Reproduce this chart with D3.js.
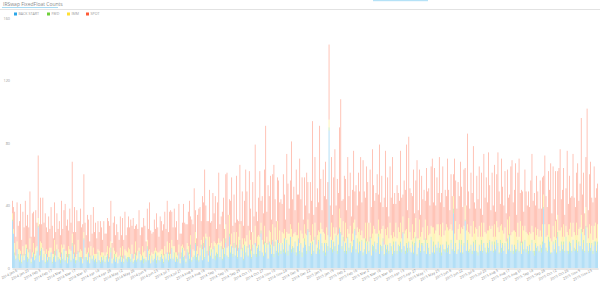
<!DOCTYPE html>
<html>
<head>
<meta charset="utf-8">
<script src="https://cdn.jsdelivr.net/npm/d3@7"></script>
<style>
	body { margin: 0; background: #fff; font-family: "Open Sans", "DejaVu Sans", sans-serif; }
</style>
</head>
<body>
<script>
"use strict";

// series names and colours
var seriesNames = ["BACK START", "FWD", "IMM", "SPOT"];
var seriesColors = ["#2aa6e8", "#6fcf3a", "#ffe033", "#ff5a36"];
var yTicks = [0, 40, 80, 120, 160];

// first trading day, one bar per weekday
var startDate = "2014-01-01";

// BACK START counts
var backStart = [
	30,22,8,5,12,6,4,9,3,7, 5,8,12,4,6,10,3,7,9,5, 6,10,26,4,8,12,5,7,3,9, 4,7,5,10,3,6,8,4,11,5,
	6,3,9,5,12,4,7,3,6,8, 4,14,6,9,3,5,10,4,7,6, 3,18,5,7,4,9,3,6,5,8, 4,6,3,8,5,3,7,4,6,3,
	5,8,4,6,10,3,5,7,4,6, 3,5,7,4,6,3,8,5,4,7, 6,4,9,3,5,8,4,6,10,4, 5,7,3,6,4,12,5,8,3,6,
	4,6,9,3,7,5,4,8,6,3, 7,5,10,4,8,6,12,5,7,4, 6,4,9,3,7,12,5,8,3,10, 8,5,12,4,7,6,15,5,9,4,
	7,12,5,14,6,18,9,4,11,7, 10,6,13,5,9,7,15,6,12,5, 12,7,16,8,6,20,9,14,7,13, 8,13,6,12,15,7,11,5,14,8,
	12,7,15,9,6,13,8,16,7,12, 14,8,22,10,7,15,9,13,6,16, 13,9,17,7,14,10,18,8,15,9, 15,10,19,9,16,8,14,20,10,13,
	10,16,8,14,18,9,15,7,13,17, 14,9,24,11,16,8,15,10,18,9, 11,17,9,22,14,10,16,8,15,11, 88,12,18,10,16,11,20,9,15,25,
	22,12,17,10,16,9,19,11,15,10, 12,18,24,10,16,9,15,11,17,8, 11,16,9,15,10,18,8,14,11,16, 10,15,20,9,14,11,17,8,15,10,
	14,9,16,11,8,15,10,17,9,14, 11,16,10,22,14,9,15,10,16,11, 10,15,9,14,17,8,13,16,10,15, 14,10,16,9,15,11,8,18,10,14,
	9,15,11,16,10,14,8,15,11,10, 15,10,14,9,16,11,35,10,14,9, 11,16,10,15,9,14,30,11,16,10, 10,14,9,16,11,15,10,8,14,11,
	15,10,16,11,9,14,10,17,11,15, 10,15,11,18,14,9,16,10,15,11, 14,9,16,11,20,10,15,9,14,10, 11,16,10,14,9,15,11,17,10,14,
	9,14,11,16,10,8,15,11,14,10, 14,10,15,38,16,11,10,18,14,9, 10,15,11,16,9,20,14,10,15,11, 15,10,17,11,9,16,14,10,18,11,
	11,16,10,15,14,22,11,16,10,25, 14,10,16,11,15,9,14,17,10,15
];

// FWD counts
var fwd = [
	1,0,2,1,0,3,1,0,1,2, 0,1,1,3,0,2,1,0,1,0, 2,1,1,0,3,1,0,2,1,0, 1,0,2,0,1,1,3,0,1,2,
	0,2,1,1,0,1,2,0,3,1, 1,2,0,1,2,0,1,3,0,1, 0,1,2,0,1,1,0,2,1,0, 1,0,1,2,0,1,0,1,2,1,
	2,1,0,1,3,0,1,2,0,1, 0,1,1,0,2,1,0,1,3,0, 1,2,0,1,0,2,1,0,1,1, 0,1,3,0,1,2,0,1,0,2,
	1,0,1,2,1,0,3,1,0,1, 2,1,0,1,2,0,1,1,3,0, 1,2,1,0,3,1,2,0,1,2, 2,1,3,1,0,2,1,2,0,1,
	1,3,0,2,1,1,2,0,3,1, 2,0,1,3,1,2,0,1,2,1, 1,2,3,0,1,2,1,0,2,3, 0,2,1,1,3,0,2,1,1,2,
	2,1,0,3,1,2,1,0,2,1, 1,3,2,0,1,2,1,3,0,1, 2,0,1,2,3,1,0,2,1,2, 1,2,0,1,2,3,1,0,2,1,
	3,1,2,0,1,2,1,3,0,2, 1,2,1,3,0,1,2,1,2,0, 2,1,3,0,2,1,0,2,1,3, 2,1,0,2,1,3,1,2,0,1,
	1,2,3,1,0,2,1,2,1,0, 2,0,1,2,3,1,2,0,1,2, 1,3,0,2,1,2,0,1,3,1, 2,1,2,0,1,3,2,1,0,2,
	1,2,0,3,1,2,1,0,2,1, 3,1,2,1,0,2,1,3,1,2, 0,2,1,2,3,1,0,2,1,1, 2,1,3,0,1,2,1,2,0,3,
	1,0,2,1,3,1,2,0,1,2, 2,3,1,0,2,1,3,1,2,0, 1,2,0,3,1,2,1,0,2,1, 2,1,2,1,0,3,1,2,1,0,
	3,1,0,2,1,2,3,1,0,2, 1,2,1,0,2,1,2,3,1,0, 2,0,3,1,2,1,0,2,1,2, 1,2,1,3,0,2,1,1,2,0,
	2,1,0,2,1,3,1,2,0,1, 1,3,2,1,0,2,1,2,3,1, 0,2,1,2,1,3,0,1,2,1, 2,1,3,0,2,1,2,1,0,2,
	1,2,1,2,0,3,1,2,1,2, 2,1,0,2,1,2,3,0,1,2
];

// IMM counts
var imm = [
	4,3,6,2,5,3,7,2,4,5, 3,6,2,5,4,7,2,3,6,4, 5,3,5,4,6,3,8,2,5,3, 2,4,6,3,5,2,7,4,3,5,
	4,2,5,7,3,6,2,4,5,3, 6,6,3,5,2,4,7,3,5,4, 3,4,6,2,5,3,4,6,2,5, 4,3,5,2,6,4,3,5,2,4,
	3,5,2,6,4,3,7,2,5,3, 4,2,5,3,6,2,4,5,3,6, 5,3,6,2,4,7,3,5,2,4, 3,6,4,5,2,4,6,3,5,2,
	4,5,3,6,2,5,4,3,6,4, 5,3,7,4,6,3,5,8,4,6, 3,2,5,3,4,2,6,3,2,4, 4,3,6,2,5,3,7,4,5,3,
	5,3,7,4,6,3,9,4,6,5, 4,6,3,8,5,7,4,9,3,6, 6,4,9,5,7,12,5,8,4,7, 5,8,4,7,10,5,6,9,4,7,
	7,5,9,6,4,8,6,11,5,7, 6,9,5,8,7,10,6,4,9,7, 8,6,10,5,9,7,12,6,8,5, 7,10,6,9,5,11,7,8,13,6,
	9,6,11,7,10,5,8,12,6,9, 7,10,6,9,5,8,11,7,9,6, 8,6,11,7,9,12,6,8,10,7, 5,7,11,6,9,8,5,10,7,12,
	9,7,10,6,13,8,5,9,11,7, 8,11,6,9,7,13,8,10,6,9, 7,10,8,12,6,9,11,7,13,8, 10,6,9,15,7,11,8,6,10,9,
	11,8,13,7,10,6,9,12,8,11, 9,12,7,10,8,13,9,6,15,10, 8,11,9,7,12,10,6,13,9,7, 10,7,12,9,11,8,13,7,16,9,
	12,9,15,11,8,13,10,14,9,12, 11,13,9,16,10,12,8,11,14,9, 13,10,12,8,15,11,9,13,10,12, 10,12,9,13,11,8,14,10,12,9,
	11,9,13,10,12,8,11,9,14,10, 9,11,8,12,10,13,9,15,8,11, 10,8,12,9,11,10,8,13,9,11, 8,11,9,13,7,10,12,9,11,8,
	10,8,11,9,12,7,10,8,11,9, 9,7,11,8,12,7,10,8,11,9, 7,10,8,12,9,11,10,13,9,8, 11,9,7,12,10,8,13,9,11,10,
	9,11,10,8,12,9,11,7,10,12, 10,8,12,9,11,7,10,12,8,11
];

// SPOT counts
var spot = [
	8,14,20,12,25,15,18,30,10,22, 18,28,12,22,16,30,14,25,20,11, 24,15,40,20,28,12,32,18,26,14, 16,22,12,26,18,10,24,15,20,13,
	20,14,28,12,22,30,16,24,10,26, 18,46,14,24,16,28,12,20,26,15, 22,37,16,12,24,18,10,20,14,26, 14,20,10,18,12,22,16,8,20,14,
	12,18,24,14,26,10,16,22,12,18, 16,10,20,14,18,12,24,10,16,20, 14,22,12,26,16,10,20,14,24,12, 18,12,22,16,10,20,14,30,16,12,
	14,20,12,24,16,10,22,18,12,20, 22,16,26,14,20,28,18,12,24,16, 20,10,26,16,8,14,28,18,22,12, 22,34,12,24,16,40,14,8,20,30,
	26,12,34,22,50,18,10,22,30,16, 14,36,18,30,10,26,42,12,16,24, 26,12,32,48,20,10,28,36,14,24, 16,36,20,10,38,18,30,12,24,46,
	28,14,38,20,12,32,18,52,22,10, 24,42,14,28,20,36,75,16,38,22, 36,16,32,52,18,12,28,40,18,28, 18,38,22,12,50,32,16,28,56,24,
	30,14,42,26,18,54,20,36,12,30, 18,40,24,12,34,26,66,16,42,24, 30,18,68,28,12,40,24,50,18,34, 48,20,42,16,32,54,14,36,26,52,
	76,22,14,42,28,18,46,24,34,16, 28,46,18,32,14,38,24,50,18,50, 30,16,48,26,12,34,20,54,26,18, 26,38,16,55,20,34,12,30,50,18,
	32,14,36,24,52,18,28,12,34,22, 20,46,26,14,34,26,54,18,52,28, 30,18,44,12,24,50,18,32,14,36, 18,32,12,46,22,30,18,38,44,16,
	42,16,30,20,50,14,28,36,18,26, 18,44,26,12,32,22,14,48,26,20, 30,18,46,26,14,36,24,16,58,26, 16,34,28,48,20,12,34,24,38,18,
	32,14,44,22,36,18,50,26,12,34, 20,38,16,30,48,26,14,42,28,18, 36,18,32,24,14,44,46,18,26,44, 14,32,50,18,34,22,12,36,26,18,
	28,16,34,46,20,30,14,38,24,18, 32,18,30,12,44,26,18,34,22,48, 18,38,24,32,12,28,40,52,18,30, 36,14,24,52,20,34,16,26,44,22,
	18,32,46,18,28,62,24,36,14,32, 76,18,32,46,18,24,38,16,32,26
];

// weekdays from the start date, one per bar
var dates = [];
var day = d3.timeParse("%Y-%m-%d")(startDate);
while (dates.length < spot.length) {
	if (day.getDay() !== 0 && day.getDay() !== 6) {
		dates.push(day);
	}
	day = d3.timeDay.offset(day, 1);
}

var rows = dates.map(function (d, i) {
	return { date: d, "BACK START": backStart[i], "FWD": fwd[i], "IMM": imm[i], "SPOT": spot[i] };
});

var width = 600, height = 285;
var margin = { left: 12, right: 2, top: 18, bottom: 17 };

var svg = d3.select("body").append("svg")
	.attr("width", width)
	.attr("height", height);

// header tab
svg.append("line")
	.attr("x1", 0).attr("x2", width)
	.attr("y1", 9.5).attr("y2", 9.5)
	.attr("stroke", "#e2e2e2");
svg.append("line")
	.attr("x1", 2).attr("x2", 58)
	.attr("y1", 7.5).attr("y2", 7.5)
	.attr("stroke", "#a9dcf4")
	.attr("stroke-width", 1.2);
svg.append("rect")
	.attr("x", 373).attr("y", 0)
	.attr("width", 55).attr("height", 1.2)
	.attr("fill", "#b5e2f7");
svg.append("text")
	.attr("x", 3).attr("y", 5.5)
	.attr("font-size", 5)
	.attr("fill", "#8a8a8a")
	.text("IRSwap FixedFloat Counts");

// legend
var legendX = [14, 47, 67, 86];
var legend = svg.append("g").selectAll("g")
	.data(seriesNames)
	.join("g")
	.attr("transform", function (d, i) { return "translate(" + legendX[i] + ",12.5)"; });
legend.append("rect")
	.attr("width", 3).attr("height", 3)
	.attr("fill", function (d, i) { return seriesColors[i]; });
legend.append("text")
	.attr("x", 4.5).attr("y", 2.8)
	.attr("font-size", 3.6)
	.attr("fill", "#999")
	.text(function (d) { return d; });

var x = d3.scaleBand()
	.domain(d3.range(rows.length))
	.range([margin.left, width - margin.right])
	.paddingInner(0.4);

var y = d3.scaleLinear()
	.domain([0, 160])
	.range([height - margin.bottom, margin.top]);

var stacked = d3.stack().keys(seriesNames)(rows);

svg.append("g").selectAll("g")
	.data(stacked)
	.join("g")
	.attr("fill", function (d, i) { return seriesColors[i]; })
	.attr("fill-opacity", 0.5)
	.selectAll("rect")
	.data(function (d) { return d; })
	.join("rect")
	.attr("x", function (d, i) { return x(i); })
	.attr("width", x.bandwidth())
	.attr("y", function (d) { return y(d[1]); })
	.attr("height", function (d) { return y(d[0]) - y(d[1]); });

// y axis labels
var yAxis = svg.append("g")
	.attr("transform", "translate(" + (margin.left - 1) + ",0)")
	.call(d3.axisLeft(y).tickValues(yTicks).tickSize(0).tickPadding(1));
yAxis.select(".domain").remove();
yAxis.selectAll("text")
	.attr("font-size", 3.8)
	.attr("fill", "#999")
	.attr("font-family", "Open Sans, sans-serif");

// x axis
var fmt = d3.timeFormat("%Y %b %-d");
var xAxis = svg.append("g")
	.attr("transform", "translate(0," + (height - margin.bottom + 0.5) + ")")
	.call(d3.axisBottom(x)
		.tickValues(d3.range(3, rows.length, 10))
		.tickFormat(function (i) { return fmt(dates[i]); })
		.tickSize(0)
		.tickPadding(2));
xAxis.select(".domain")
	.attr("stroke", "#cfcfcf");
xAxis.selectAll("text")
	.attr("font-size", 3.6)
	.attr("fill", "#8a8a8a")
	.attr("font-family", "Open Sans, sans-serif")
	.attr("text-anchor", "end")
	.attr("dy", "0.3em")
	.attr("transform", "rotate(-28)");
</script>
</body>
</html>
